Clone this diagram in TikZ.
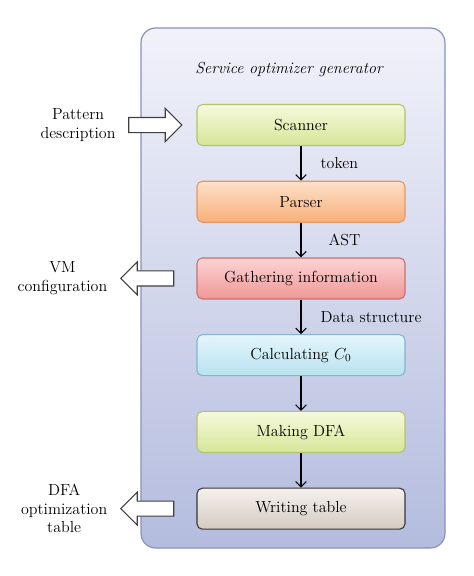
\documentclass[tikz,border=0pt]{standalone}
\usepackage{tikz}
\usetikzlibrary{arrows.meta,positioning,shapes.arrows}
\definecolor{PanelTop}{RGB}{241,242,250}
\definecolor{PanelBot}{RGB}{180,188,222}
\definecolor{PanelLine}{RGB}{135,145,190}
\definecolor{ScanTop}{RGB}{246,249,220}
\definecolor{ScanBot}{RGB}{214,230,152}
\definecolor{ScanLine}{RGB}{178,195,112}
\definecolor{ParseTop}{RGB}{253,224,200}
\definecolor{ParseBot}{RGB}{248,176,122}
\definecolor{ParseLine}{RGB}{230,150,100}
\definecolor{GatherTop}{RGB}{252,212,212}
\definecolor{GatherBot}{RGB}{240,150,150}
\definecolor{GatherLine}{RGB}{205,110,110}
\definecolor{CalcTop}{RGB}{228,245,251}
\definecolor{CalcBot}{RGB}{184,226,240}
\definecolor{CalcLine}{RGB}{130,180,205}
\definecolor{WriteTop}{RGB}{245,241,237}
\definecolor{WriteBot}{RGB}{212,202,194}
\definecolor{WriteLine}{RGB}{55,55,55}
\tikzset{
  stage/.style={draw,rounded corners=4pt,line width=0.8pt,minimum height=30.75pt,
    minimum width=156pt,align=center,font=\large},
  scanbox/.style={stage,draw=ScanLine,top color=ScanTop,bottom color=ScanBot},
  parsebox/.style={stage,draw=ParseLine,top color=ParseTop,bottom color=ParseBot},
  gatherbox/.style={stage,draw=GatherLine,top color=GatherTop,bottom color=GatherBot},
  calcbox/.style={stage,draw=CalcLine,top color=CalcTop,bottom color=CalcBot},
  writebox/.style={stage,draw=WriteLine,top color=WriteTop,bottom color=WriteBot},
  blockarrow/.style={single arrow,draw=black!75,fill=white,line width=0.8pt,
    inner sep=5.25pt,minimum height=39.75pt,single arrow head extend=6.75pt},
  outarrow/.style={blockarrow,shape border rotate=180},
  sidetext/.style={align=center,font=\large},
  flowlabel/.style={font=\large},
  flow/.style={-{Straight Barb[length=4pt,width=8pt]},line width=0.8pt}
}
\begin{document}
\begin{tikzpicture}[x=0.75pt,y=-0.75pt,node distance=26pt]
  \useasboundingbox (0,0) rectangle (474,576);
  % panel
  \draw[draw=PanelLine,line width=0.9pt,rounded corners=11pt,top color=PanelTop,bottom color=PanelBot]
    (141,28) rectangle (445,548);
  \node[font=\large\itshape] (title) at (289,69) {Service optimizer generator};
  % stages
  \node[scanbox] (scan) at (301,125) {Scanner};
  \node[parsebox,below=of scan] (parse) {Parser};
  \node[gatherbox,below=of parse] (gather) {Gathering information};
  \node[calcbox,below=of gather] (calc) {Calculating $C_0$};
  \node[scanbox,below=of calc] (dfa) {Making DFA};
  \node[writebox,below=of dfa] (write) {Writing table};
  \draw[flow] (scan) -- node[flowlabel,midway,right=11pt] {token} (parse);
  \draw[flow] (parse) -- node[flowlabel,midway,right=17pt] {AST} (gather);
  \draw[flow] (gather) -- node[flowlabel,midway,right=11pt] {Data structure} (calc);
  \draw[flow] (calc) -- (dfa);
  \draw[flow] (dfa) -- (write);
  % inputs and outputs
  \node[blockarrow] (patin) at (151.5,0 |- scan) {};
  \node[sidetext,left=6pt of patin] (pattext) {Pattern\\description};
  \node[outarrow] (vmout) at (151,0 |- gather) {};
  \node[sidetext,left=6pt of vmout] (vmtext) {VM\\configuration};
  \node[outarrow] (tabout) at (151,0 |- write) {};
  \node[sidetext,left=6pt of tabout] (tabtext) {DFA\\optimization\\table};
\end{tikzpicture}
\end{document}
